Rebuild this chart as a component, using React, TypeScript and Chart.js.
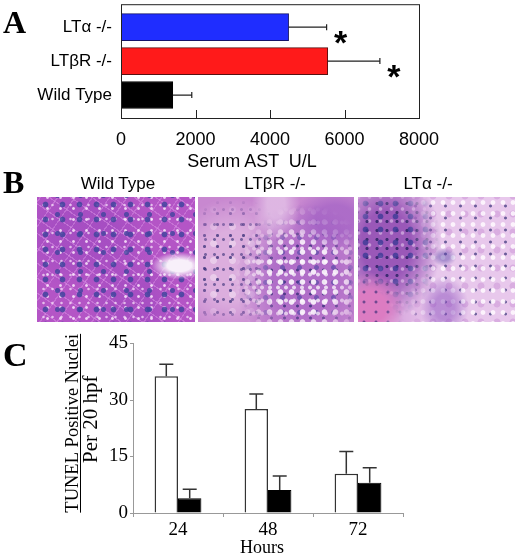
import { useEffect, useRef } from "react";
import Chart from "chart.js/auto";

// Panel A – serum AST
const astGroups = ["LTα -/-", "LTβR -/-", "Wild Type"];
const astMean = [4500, 5550, 1390];
const astSem = [1020, 1400, 510];
const astStar = [true, true, false];
const astTicks = [0, 2000, 4000, 6000, 8000];

// Panel C – TUNEL positive nuclei
const tunelHours = ["24", "48", "72"];
const tunelOpen = [36.3, 27.6, 10.4];
const tunelOpenSem = [3.2, 4.0, 5.9];
const tunelFilled = [3.9, 6.1, 8.0];
const tunelFilledSem = [2.4, 3.7, 4.0];
const tunelTicks = [0, 15, 30, 45];

const SANS = "'Liberation Sans', Arial, sans-serif";
const SERIF = "'Liberation Serif', 'Times New Roman', serif";

const errorBars = {
  id: "errorBars",
  afterDatasetsDraw(chart: any, _args: any, opts: any) {
    const { ctx } = chart;
    const horizontal = chart.options.indexAxis === "y";
    const vScale = horizontal ? chart.scales.x : chart.scales.y;
    ctx.save();
    ctx.strokeStyle = opts.color || "#222";
    ctx.lineWidth = opts.width || 1;
    chart.data.datasets.forEach((ds: any, i: number) => {
      const meta = chart.getDatasetMeta(i);
      meta.data.forEach((bar: any, j: number) => {
        const end = vScale.getPixelForValue(ds.data[j] + ds.sem[j]);
        const cap = opts.cap || 3;
        ctx.beginPath();
        if (horizontal) {
          ctx.moveTo(bar.x, bar.y);
          ctx.lineTo(end, bar.y);
          ctx.moveTo(end, bar.y - cap);
          ctx.lineTo(end, bar.y + cap);
        } else {
          ctx.moveTo(bar.x, bar.y);
          ctx.lineTo(bar.x, end);
          ctx.moveTo(bar.x - cap, end);
          ctx.lineTo(bar.x + cap, end);
        }
        ctx.stroke();
        if (ds.star && ds.star[j]) {
          ctx.fillStyle = "#000";
          ctx.font = `bold 34px ${SANS}`;
          ctx.textAlign = "center";
          ctx.textBaseline = "alphabetic";
          ctx.fillText("*", end + 14, bar.y + 27);
        }
      });
    });
    ctx.restore();
  },
};

// box with inner tick marks for panel A
const boxFrame = {
  id: "boxFrame",
  afterDraw(chart: any) {
    const { ctx, chartArea } = chart;
    const top = chartArea.top - 6;
    const bottom = chartArea.bottom + 6;
    ctx.save();
    ctx.strokeStyle = "#222";
    ctx.lineWidth = 1;
    ctx.strokeRect(chartArea.left + 0.5, top + 0.5, chartArea.right - chartArea.left, bottom - top);
    const xs = chart.scales.x;
    ctx.beginPath();
    xs.ticks.forEach((t: any) => {
      const px = Math.round(xs.getPixelForValue(t.value)) + 0.5;
      ctx.moveTo(px, bottom);
      ctx.lineTo(px, bottom - 8);
    });
    ctx.stroke();
    ctx.restore();
  },
};

// two-line rotated y title for panel C, first line underlined
const yTitle = {
  id: "yTitle",
  afterDraw(chart: any) {
    const { ctx, chartArea } = chart;
    const midY = (chartArea.top + chartArea.bottom) / 2;
    const lines = [
      { text: "TUNEL Positive Nuclei", size: 18.5, base: 78, dy: -5, underline: true },
      { text: "Per 20 hpf", size: 21, base: 97, dy: -9, underline: false },
    ];
    ctx.save();
    ctx.fillStyle = "#000";
    ctx.strokeStyle = "#000";
    ctx.lineWidth = 1;
    lines.forEach((l) => {
      ctx.save();
      ctx.translate(l.base, midY + l.dy);
      ctx.rotate(-Math.PI / 2);
      ctx.font = `${l.size}px ${SERIF}`;
      ctx.textAlign = "center";
      ctx.textBaseline = "alphabetic";
      ctx.fillText(l.text, 0, 0);
      if (l.underline) {
        const w = ctx.measureText(l.text).width;
        ctx.beginPath();
        ctx.moveTo(-w / 2, 2.5);
        ctx.lineTo(w / 2, 2.5);
        ctx.stroke();
      }
      ctx.restore();
    });
    ctx.restore();
  },
};

// ---- histology stand-ins (decorative CSS textures) ----
const dots = (c: string, r: number) => `radial-gradient(circle, ${c} 0 ${r}px, rgba(0,0,0,0) ${r + 0.9}px)`;
const blob = (at: string, c: string, a: number, b: number) =>
  `radial-gradient(ellipse at ${at}, ${c} 0 ${a}%, rgba(0,0,0,0) ${b}%)`;

type LayerSpec = { bg: string; images: string[]; sizes: string[]; pos: string[]; mask?: string };

function Tissue(props: { left: number; width: number; base: string; layers: LayerSpec[] }) {
  return (
    <div
      style={{
        position: "absolute",
        left: props.left,
        top: 197,
        width: props.width,
        height: 125,
        background: props.base,
        overflow: "hidden",
      }}
    >
      {props.layers.map((l, i) => (
        <div
          key={i}
          style={{
            position: "absolute",
            inset: 0,
            backgroundColor: l.bg,
            backgroundImage: l.images.join(","),
            backgroundSize: l.sizes.join(","),
            backgroundPosition: l.pos.join(","),
            maskImage: l.mask,
            WebkitMaskImage: l.mask,
          }}
        />
      ))}
    </div>
  );
}

const wtLayers: LayerSpec[] = [
  {
    bg: "rgba(0,0,0,0)",
    images: [
      blob("90% 55%", "#f8f0fa", 6, 14),
      dots("rgba(66,68,158,0.85)", 2.4),
      dots("rgba(66,68,158,0.8)", 2.1),
      dots("rgba(250,232,252,0.85)", 0.9),
      dots("rgba(250,232,252,0.7)", 0.8),
      "repeating-linear-gradient(35deg, rgba(222,152,232,0) 0 11px, rgba(222,152,232,0.45) 11px 12.2px)",
      "repeating-linear-gradient(-55deg, rgba(222,152,232,0) 0 13px, rgba(222,152,232,0.4) 13px 14.2px)",
      blob("30% 30%", "rgba(150,70,190,0.45)", 20, 45),
      blob("60% 85%", "rgba(150,70,190,0.4)", 15, 35),
    ],
    sizes: ["100% 100%", "17px 15px", "23px 19px", "13px 11px", "9px 14px", "auto", "auto", "100% 100%", "100% 100%"],
    pos: ["0 0", "0 0", "9px 8px", "4px 6px", "2px 1px", "0 0", "0 0", "0 0", "0 0"],
  },
];

const ltbrLayers: LayerSpec[] = [
  {
    // pale, cloudy left part with scattered small nuclei
    bg: "#dcaede",
    images: [dots("rgba(40,36,110,0.7)", 1.1), dots("rgba(40,36,110,0.55)", 1), dots("rgba(246,232,246,0.5)", 3)],
    sizes: ["13px 11px", "9px 15px", "19px 17px"],
    pos: ["0 0", "3px 5px", "6px 4px"],
    mask: "radial-gradient(ellipse 40% 55% at 22% 55%, #000 50%, rgba(0,0,0,0) 100%)",
  },
  {
    // purple right part with fat vacuoles
    bg: "#b06ec8",
    images: [
      dots("rgba(253,248,253,0.9)", 2.3),
      dots("rgba(253,248,253,0.75)", 1.5),
      dots("rgba(70,64,160,0.55)", 2),
      dots("rgba(40,36,110,0.7)", 1),
    ],
    sizes: ["11px 10px", "8px 13px", "17px 15px", "13px 12px"],
    pos: ["0 0", "4px 6px", "8px 3px", "2px 7px"],
    mask: "radial-gradient(ellipse 45% 60% at 68% 65%, #000 45%, rgba(0,0,0,0) 100%)",
  },
  {
    bg: "rgba(0,0,0,0)",
    images: [blob("50% 6%", "rgba(240,220,242,0.55)", 8, 22), blob("88% 18%", "rgba(140,75,190,0.45)", 10, 22)],
    sizes: ["100% 100%", "100% 100%"],
    pos: ["0 0", "0 0"],
  },
];

const ltaLayers: LayerSpec[] = [
  {
    // light, vacuolated right part
    bg: "#e8c8ec",
    images: [dots("rgba(255,250,255,0.85)", 1.9), dots("rgba(40,36,110,0.65)", 1), dots("rgba(200,140,210,0.45)", 3)],
    sizes: ["10px 11px", "15px 12px", "16px 18px"],
    pos: ["0 0", "5px 3px", "3px 8px"],
    mask: "linear-gradient(90deg, rgba(0,0,0,0) 25%, #000 50%)",
  },
  {
    // dark purple left band
    bg: "#9a58b8",
    images: [dots("rgba(60,58,150,0.8)", 2.4), dots("rgba(30,28,90,0.75)", 1.1), dots("rgba(240,220,245,0.5)", 1.3)],
    sizes: ["15px 13px", "10px 9px", "11px 12px"],
    pos: ["0 0", "4px 2px", "6px 6px"],
    mask: "radial-gradient(ellipse 35% 60% at 18% 38%, #000 45%, rgba(0,0,0,0) 100%)",
  },
  {
    // pink lower-left
    bg: "#dc7cc2",
    images: [dots("rgba(40,36,110,0.6)", 1)],
    sizes: ["12px 10px"],
    pos: ["0 0"],
    mask: "radial-gradient(ellipse 22% 28% at 8% 88%, #000 45%, rgba(0,0,0,0) 100%)",
  },
  {
    bg: "rgba(0,0,0,0)",
    images: [blob("55% 88%", "rgba(140,80,190,0.5)", 8, 20), blob("55% 48%", "rgba(90,70,170,0.45)", 4, 10)],
    sizes: ["100% 100%", "100% 100%"],
    pos: ["0 0", "0 0"],
  },
];

function Text(props: { x: number; y: number; size: number; font: string; bold?: boolean; center?: boolean; children: any }) {
  const { x, y, size, font, bold, center, children } = props;
  return (
    <div
      style={{
        position: "absolute",
        left: center ? x - 150 : x,
        width: center ? 300 : undefined,
        textAlign: center ? "center" : "left",
        top: y,
        fontFamily: font,
        fontSize: size,
        fontWeight: bold ? "bold" : "normal",
        lineHeight: 1,
        whiteSpace: "pre",
        color: "#000",
      }}
    >
      {children}
    </div>
  );
}

export default function App() {
  const astRef = useRef<HTMLCanvasElement>(null);
  const tunelRef = useRef<HTMLCanvasElement>(null);

  useEffect(() => {
    const charts: Chart[] = [];

    if (astRef.current) {
      charts.push(
        new Chart(astRef.current, {
          type: "bar",
          data: {
            labels: astGroups,
            datasets: [
              {
                data: astMean,
                sem: astSem,
                star: astStar,
                backgroundColor: ["#1f2dff", "#ff1a1a", "#000000"],
                borderColor: ["#14146a", "#5a1010", "#000000"],
                borderWidth: 1,
                borderSkipped: false,
                barThickness: 27,
              } as any,
            ],
          },
          options: {
            indexAxis: "y",
            responsive: false,
            animation: false,
            layout: { padding: { top: 10, right: 21, left: 0, bottom: 0 } },
            plugins: {
              legend: { display: false },
              tooltip: { enabled: false },
              errorBars: { cap: 3, width: 1.2, color: "#222" },
            } as any,
            scales: {
              x: {
                min: 0,
                max: 8000,
                afterBuildTicks: (s: any) => {
                  s.ticks = astTicks.map((v) => ({ value: v }));
                },
                afterFit: (s: any) => {
                  s.height = 60;
                },
                grid: { display: false, drawTicks: true, tickLength: 17 },
                border: { display: false },
                ticks: {
                  font: { family: SANS, size: 18 },
                  color: "#000",
                  padding: 0,
                  maxRotation: 0,
                  callback: (v: any) => String(v),
                },
              },
              y: {
                afterFit: (s: any) => {
                  s.width = 121;
                },
                grid: { display: false, drawTicks: true, tickLength: 9 },
                border: { display: false },
                ticks: { font: { family: SANS, size: 17 }, color: "#000", padding: 0 },
              },
            },
          },
          plugins: [errorBars, boxFrame],
        })
      );
    }

    if (tunelRef.current) {
      charts.push(
        new Chart(tunelRef.current, {
          type: "bar",
          data: {
            labels: tunelHours,
            datasets: [
              {
                data: tunelOpen,
                sem: tunelOpenSem,
                backgroundColor: "#ffffff",
                borderColor: "#333333",
                borderWidth: 1.5,
              } as any,
              {
                data: tunelFilled,
                sem: tunelFilledSem,
                backgroundColor: "#000000",
                borderColor: "#000000",
                borderWidth: 1,
              } as any,
            ],
          },
          options: {
            responsive: false,
            animation: false,
            datasets: { bar: { categoryPercentage: 0.52, barPercentage: 1 } },
            layout: { padding: { top: 13.5, right: 17, left: 0, bottom: 0 } },
            plugins: {
              legend: { display: false },
              tooltip: { enabled: false },
              errorBars: { cap: 7, width: 1.5, color: "#333" },
            } as any,
            scales: {
              x: {
                afterFit: (s: any) => {
                  s.height = 42;
                },
                grid: { display: true, drawOnChartArea: false, tickLength: 4, color: "#999", offset: true },
                border: { display: true, color: "#999", width: 1 },
                ticks: { font: { family: SERIF, size: 19 }, color: "#000", padding: 2 },
              },
              y: {
                min: 0,
                max: 45,
                afterBuildTicks: (s: any) => {
                  s.ticks = tunelTicks.map((v) => ({ value: v }));
                },
                afterFit: (s: any) => {
                  s.width = 133;
                },
                grid: { display: true, drawOnChartArea: false, tickLength: 3, color: "#999" },
                border: { display: true, color: "#999", width: 1 },
                ticks: { font: { family: SERIF, size: 19 }, color: "#000", padding: 2 },
              },
            },
          },
          plugins: [errorBars, yTitle],
        })
      );
    }

    return () => charts.forEach((c) => c.destroy());
  }, []);

  return (
    <div
      style={{
        position: "absolute",
        left: 0,
        top: 0,
        width: 520,
        height: 555,
        background: "#fff",
        overflow: "hidden",
      }}
    >
      {/* Panel A */}
      <canvas ref={astRef} width={440} height={172} style={{ position: "absolute", left: 0, top: 0 }} />
      <Text x={3} y={6} size={32} font={SERIF} bold>A</Text>
      <Text x={252} y={152} size={18} font={SANS} center>Serum AST  U/L</Text>

      {/* Panel B */}
      <Text x={3} y={166} size={32} font={SERIF} bold>B</Text>
      <Text x={118} y={175} size={17} font={SANS} center>Wild Type</Text>
      <Text x={275} y={175} size={17} font={SANS} center>LTβR -/-</Text>
      <Text x={428} y={175} size={17} font={SANS} center>LTα -/-</Text>
      <Tissue left={37} width={158} base="#b455c6" layers={wtLayers} />
      <Tissue left={198} width={156} base="#c888d0" layers={ltbrLayers} />
      <Tissue left={358} width={157} base="#d9aadf" layers={ltaLayers} />

      {/* Panel C */}
      <Text x={3} y={338} size={34} font={SERIF} bold>C</Text>
      <canvas ref={tunelRef} width={420} height={225} style={{ position: "absolute", left: 0, top: 330 }} />
      <Text x={262} y={538} size={18} font={SERIF} center>Hours</Text>
    </div>
  );
}
